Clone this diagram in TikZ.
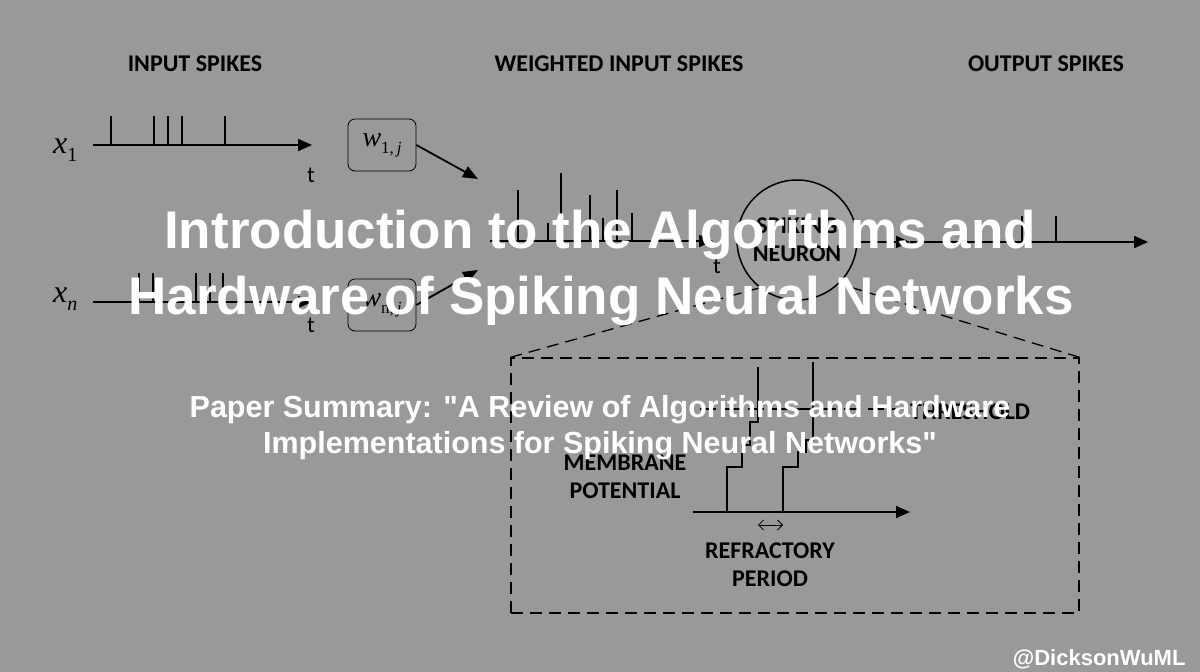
\documentclass[tikz,border=0pt]{standalone}
\usepackage{fontspec}
\setmainfont{Liberation Sans}[Ligatures=TeXOff]
\newfontfamily\calfont{Carlito}
\newfontfamily\timesfont{Liberation Serif}
\usetikzlibrary{arrows.meta}
\definecolor{bggray}{RGB}{153,153,153}
\definecolor{somagray}{RGB}{162,162,162}
\newcommand{\invar}[2]{{\timesfont\fontsize{32}{32}\selectfont\itshape #1}\raisebox{-8pt}{\timesfont\fontsize{20}{20}\selectfont #2}}
\newcommand{\wvar}[1]{{\timesfont\fontsize{28}{28}\selectfont\itshape w}\raisebox{-7pt}{\timesfont\fontsize{17}{17}\selectfont #1,\,\itshape j}}
\begin{document}
\begin{tikzpicture}[x=1pt,y=-1pt,
	hd/.style={font=\calfont\bfseries\fontsize{24}{28}\selectfont,anchor=base},
	lbl/.style={font=\calfont\bfseries\fontsize{24}{28}\selectfont,align=center},
	tlbl/.style={font=\calfont\fontsize{23}{27}\selectfont},
	spk/.style={line width=1.4pt},
	taxis/.style={line width=2pt,-{Triangle[length=14pt,width=12pt]}},
	warrow/.style={line width=1.8pt,-{Triangle[length=15pt,width=12pt]}},
	wbox/.style={draw,rounded corners=7pt,minimum width=68pt,minimum height=52pt,line width=0.8pt},
	dsh/.style={line width=1.3pt,dash pattern=on 12pt off 7pt},
	bigtitle/.style={text=white,font=\bfseries\fontsize{53}{64}\selectfont,anchor=base},
	subtitle/.style={text=white,font=\bfseries\fontsize{30.5}{36}\selectfont,anchor=base}]
	\fill[bggray] (0,0) rectangle (1200,672);
	\useasboundingbox (0,0) rectangle (1200,672);
	\node[hd] (hin) at (195,71) {INPUT SPIKES};
	\node[hd] (hwt) at (619,71) {WEIGHTED INPUT SPIKES};
	\node[hd] (hout) at (1046,71) {OUTPUT SPIKES};
	\node[anchor=base west,inner sep=0] (x1) at (53,153) {\invar{x}{1}};
	\node[anchor=base west,inner sep=0] (xn) at (53,302) {\invar{x}{\itshape n}};
	\coordinate (x1s) at (93,145);
	\coordinate (x1e) at (312,145);
	\coordinate (xns) at (93,302);
	\coordinate (xne) at (312,302);
	\draw[taxis] (x1s) -- (x1e);
	\draw[taxis] (xns) -- (xne);
	\foreach \t in {111,154,168,182,225}
		\draw[spk] (\t,145) -- (\t,116);
	\foreach \t in {139,153,196,210,223}
		\draw[spk] (\t,302) -- (\t,273);
	\node[tlbl] (t1) at (311,175) {t};
	\node[tlbl] (tn) at (311,325) {t};
	\node[wbox] (w1) at (382,145) {\wvar{1}};
	\node[wbox] (wn) at (382,305) {\wvar{n}};
	\coordinate (in1) at (478,179);
	\coordinate (inn) at (478,270);
	\draw[warrow] (w1.east) -- (in1);
	\draw[warrow] (wn.east) -- (inn);
	\coordinate (wts) at (490,241);
	\coordinate (wte) at (713,241);
	\draw[taxis] (wts) -- (wte);
	\foreach \t/\h in {518/190,548/223,561/173,575/225,590/195,603/218,617/190,632/213}
		\draw[spk] (\t,241) -- (\t,\h);
	\node[tlbl] (tw) at (717,266) {t};
	\node[draw,circle,fill=somagray,line width=1.5pt,minimum size=120pt,inner sep=0,lbl] (nrn) at (797,240) {SPIKING\\NEURON};
	\coordinate (os) at (910,242);
	\coordinate (oe) at (1148,242);
	\draw[taxis] (nrn.east |- os) -- (os);
	\draw[taxis] (os) -- (oe);
	\foreach \t in {1022,1056}
		\draw[spk] (\t,242) -- (\t,216);
	\node[draw,dsh,minimum width=568pt,minimum height=255pt,inner sep=0] (inset) at (795,485.5) {};
	\draw[dsh] (inset.north west) -- (nrn.232);
	\draw[dsh] (inset.north east) -- (nrn.314);
	\coordinate (ms) at (693,512);
	\coordinate (me) at (910,512);
	\draw[taxis] (ms) -- (me);
	\draw[spk] (727,512) |- (742,467) |- (750,445) |- (758,422) -- (758,367);
	\draw[spk] (783,512) |- (798,467) |- (806,452) |- (813,440) -- (813,362);
	\node[lbl] (thr) at (970,412) {THRESHOLD};
	\coordinate (ts) at (700,409);
	\draw[line width=1.3pt,dash pattern=on 16pt off 8pt] (ts) -- (ts -| thr.west);
	\node[lbl] (mem) at (625,477) {MEMBRANE\\POTENTIAL};
	\coordinate (rf1) at (758,525);
	\coordinate (rf2) at (783,525);
	\draw[line width=0.8pt,{Straight Barb[length=5pt,width=10pt]}-{Straight Barb[length=5pt,width=10pt]}] (rf1) -- (rf2);
	\node[lbl] (refr) at (770,565) {REFRACTORY\\PERIOD};
	\node[bigtitle] (ttl1) at (600,248) {Introduction to the Algorithms and};
	\node[bigtitle] (ttl2) at (601,314) {Hardware of Spiking Neural Networks};
	\node[subtitle] (sub1) at (600,417) {Paper Summary: "A Review of Algorithms and Hardware};
	\node[subtitle] (sub2) at (600,453) {Implementations for Spiking Neural Networks"};
	\node[text=white,font=\bfseries\fontsize{22}{26}\selectfont,anchor=base east] (tag) at (1189,665) {@DicksonWuML};
\end{tikzpicture}
\end{document}
